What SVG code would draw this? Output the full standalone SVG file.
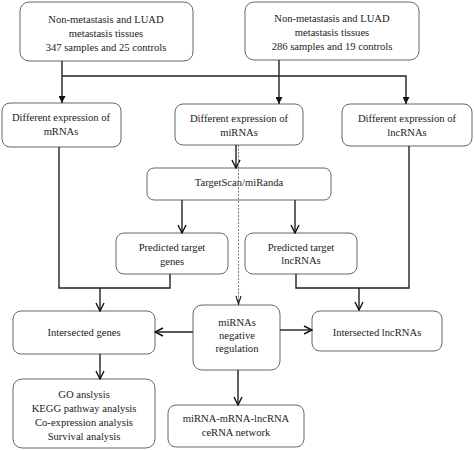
<svg xmlns="http://www.w3.org/2000/svg" width="474" height="450" viewBox="0 0 474 450">
<style>
.box{fill:#fff;stroke:#666;stroke-width:1}
.t{font-family:"Liberation Serif","Times New Roman",serif;font-size:10.6px;fill:#222;text-anchor:middle}
.c{fill:none;stroke:#222;stroke-width:1.4}
.d{fill:none;stroke:#777;stroke-width:1;stroke-dasharray:2,1.5}
</style>
<defs>
<marker id="fa" viewBox="0 0 10 10" refX="10" refY="5" markerWidth="7" markerHeight="7" markerUnits="userSpaceOnUse" orient="auto"><path d="M0,0 L10,5 L0,10 z" fill="#111"/></marker>
<marker id="oa" viewBox="0 0 10 10" refX="9" refY="5" markerWidth="10" markerHeight="10" markerUnits="userSpaceOnUse" orient="auto"><path d="M1,1 L9,5 L1,9" fill="none" stroke="#111" stroke-width="1.4"/></marker>
</defs>
<g id="n1"><rect class="box" x="20" y="2" width="173" height="59" rx="9"/>
<text class="t" x="106" y="23">Non-metastasis and LUAD</text><text class="t" x="106" y="37">metastasis tissues</text><text class="t" x="106" y="51">347 samples and 25 controls</text></g>
<g id="n2"><rect class="box" x="245" y="2" width="174" height="58" rx="9"/>
<text class="t" x="332" y="22">Non-metastasis and LUAD</text><text class="t" x="332" y="36">metastasis tissues</text><text class="t" x="332" y="50">286 samples and 19 controls</text></g>
<g id="n3"><rect class="box" x="2" y="103" width="119" height="44" rx="8"/>
<text class="t" x="61" y="121">Different expression of</text><text class="t" x="61" y="135">mRNAs</text></g>
<g id="n4"><rect class="box" x="175" y="104" width="128" height="41" rx="8"/>
<text class="t" x="239" y="122">Different expression of</text><text class="t" x="239" y="136">miRNAs</text></g>
<g id="n5"><rect class="box" x="342" y="104" width="130" height="42" rx="8"/>
<text class="t" x="407" y="122">Different expression of</text><text class="t" x="407" y="136">lncRNAs</text></g>
<g id="n6"><rect class="box" x="147" y="168" width="184" height="32" rx="7"/>
<text class="t" x="239" y="186">TargetScan/miRanda</text></g>
<g id="n7"><rect class="box" x="116" y="233" width="112" height="41" rx="8"/>
<text class="t" x="172" y="251">Predicted target</text><text class="t" x="172" y="265">genes</text></g>
<g id="n8"><rect class="box" x="245" y="233" width="112" height="41" rx="8"/>
<text class="t" x="301" y="251">Predicted target</text><text class="t" x="301" y="264">lncRNAs</text></g>
<g id="n9"><rect class="box" x="13" y="311" width="142" height="43" rx="8"/>
<text class="t" x="84" y="336">Intersected genes</text></g>
<g id="n10"><rect class="box" x="193" y="305" width="87" height="65" rx="9"/>
<text class="t" x="237" y="326">miRNAs</text><text class="t" x="237" y="339">negative</text><text class="t" x="237" y="352">regulation</text></g>
<g id="n11"><rect class="box" x="312" y="311" width="130" height="40" rx="8"/>
<text class="t" x="377" y="336">Intersected lncRNAs</text></g>
<g id="n12"><rect class="box" x="13" y="379" width="142" height="69" rx="9"/>
<text class="t" x="84" y="398">GO anslysis</text><text class="t" x="84" y="412">KEGG pathway analysis</text><text class="t" x="84" y="426">Co-expression analysis</text><text class="t" x="84" y="440">Survival analysis</text></g>
<g id="n13"><rect class="box" x="168" y="405" width="136" height="42" rx="8"/>
<text class="t" x="236" y="422">miRNA-mRNA-lncRNA</text><text class="t" x="236" y="436">ceRNA network</text></g>
<g id="connectors">
<path class="c" d="M62,61 V103" marker-end="url(#fa)"/>
<path class="c" d="M62,76 H406 V104" marker-end="url(#fa)"/>
<path class="c" d="M279,60 V104" marker-end="url(#fa)"/>
<path class="c" d="M236,145 V168" marker-end="url(#oa)"/>
<path class="d" d="M238.5,145 V304"/>
<path class="c" d="M236,296 L238.5,304 L241,296" style="stroke-width:1.2"/>
<path class="c" d="M182,200 V233" marker-end="url(#oa)"/>
<path class="c" d="M295,200 V233" marker-end="url(#oa)"/>
<path class="c" d="M59,147 V288 H170 V274"/>
<path class="c" d="M100,288 V311" marker-end="url(#oa)"/>
<path class="c" d="M296,274 V288 H409 V146"/>
<path class="c" d="M359,288 V310" marker-end="url(#oa)"/>
<path class="c" d="M193,332 H155" marker-end="url(#oa)"/>
<path class="c" d="M280,330 H312" marker-end="url(#oa)"/>
<path class="c" d="M100,354 V379" marker-end="url(#oa)"/>
<path class="c" d="M238,370 V405" marker-end="url(#oa)"/>
</g>
</svg>
